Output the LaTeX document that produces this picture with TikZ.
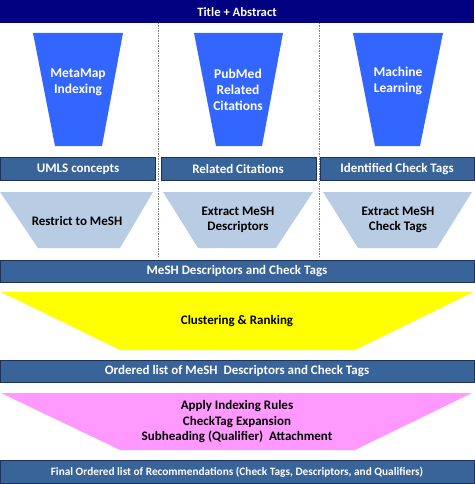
\documentclass[tikz,border=0pt]{standalone}
\usepackage{fontspec}
\setmainfont{Carlito}
\definecolor{navy}{RGB}{0,0,128}
\definecolor{barfill}{RGB}{56,100,154}
\definecolor{barline}{RGB}{30,50,90}
\definecolor{funnelblue}{RGB}{51,102,255}
\definecolor{lightsteel}{RGB}{184,204,228}
\definecolor{pinkish}{RGB}{255,153,255}
\definecolor{yel}{RGB}{255,255,0}
\tikzset{
  bar/.style={fill=barfill, draw=barline, line width=1pt},
  bartext/.style={text=white, font=\bfseries\fontsize{13}{15}\selectfont, inner sep=0pt},
  funtext/.style={text=white, font=\bfseries\fontsize{13.5}{16}\selectfont, align=center, inner sep=0pt},
  darktext/.style={text=black, font=\bfseries\fontsize{13}{15.5}\selectfont, align=center, inner sep=0pt},
  sep/.style={draw=gray, dash pattern=on 1.5pt off 1pt, line width=0.6pt}
}
\begin{document}
\begin{tikzpicture}[x=1pt,y=-1pt]
\useasboundingbox (0,0) rectangle (474,484);
% separators
\draw[sep] (158,23) -- (158,258);
\draw[sep] (319,23) -- (319,258);
% title
\fill[navy] (0,0) rectangle (474,23);
\node[bartext, font=\bfseries\fontsize{12.7}{15}\selectfont] (title) at (237,12) {Title + Abstract};
% blue funnels
\fill[funnelblue] (33,33) -- (123,33) -- (102,146) -- (55,146) -- cycle;
\fill[funnelblue] (194,33) -- (283,33) -- (262,146) -- (216,146) -- cycle;
\fill[funnelblue] (353,33) -- (443,33) -- (420,146) -- (375,146) -- cycle;
\node[funtext] (mm) at (78,82) {MetaMap\\Indexing};
\node[funtext] (pm) at (238,90) {PubMed\\Related\\Citations};
\node[funtext] (ml) at (398,81) {Machine\\Learning};
% row bars
\draw[bar] (0,157) rectangle (155,180);
\draw[bar] (161,157) rectangle (316,180);
\draw[bar] (320,157) rectangle (474,180);
\node[bartext] (umls) at (78,169) {UMLS concepts};
\node[bartext] (rc) at (238,169) {Related Citations};
\node[bartext] (ict) at (397,169) {Identified Check Tags};
% light funnels
\fill[lightsteel] (0,192) -- (153,192) -- (120,248) -- (38,248) -- cycle;
\fill[lightsteel] (163,192) -- (313,192) -- (276,248) -- (198,248) -- cycle;
\fill[lightsteel] (323,192) -- (472,192) -- (437,248) -- (358,248) -- cycle;
\node[darktext] (rm) at (77,221) {Restrict to MeSH};
\node[darktext] (emd) at (238,220) {Extract MeSH\\Descriptors};
\node[darktext] (emc) at (398,220) {Extract MeSH\\Check Tags};
% MeSH bar
\draw[bar] (0,260) rectangle (474,282);
\node[bartext] (mesh) at (237,271) {MeSH Descriptors and Check Tags};
% yellow
\fill[yel] (1,292) -- (473,292) -- (355,350) -- (120,350) -- cycle;
\node[darktext] (cr) at (237,321) {Clustering \& Ranking};
% ordered bar
\draw[bar] (0,360) rectangle (474,382);
\node[bartext] (ord) at (237,371) {Ordered list of MeSH\ \ Descriptors and Check Tags};
% pink
\fill[pinkish] (1,393) -- (472,393) -- (355,450) -- (120,450) -- cycle;
\node[darktext] (air) at (237,422) {Apply Indexing Rules\\CheckTag Expansion\\Subheading (Qualifier)\ \ Attachment};
% final bar
\draw[bar] (0,460) rectangle (474,483);
\node[bartext, font=\bfseries\fontsize{11.3}{13}\selectfont] (fin) at (237,472) {Final Ordered list of Recommendations (Check Tags, Descriptors, and Qualifiers)};
\end{tikzpicture}
\end{document}
